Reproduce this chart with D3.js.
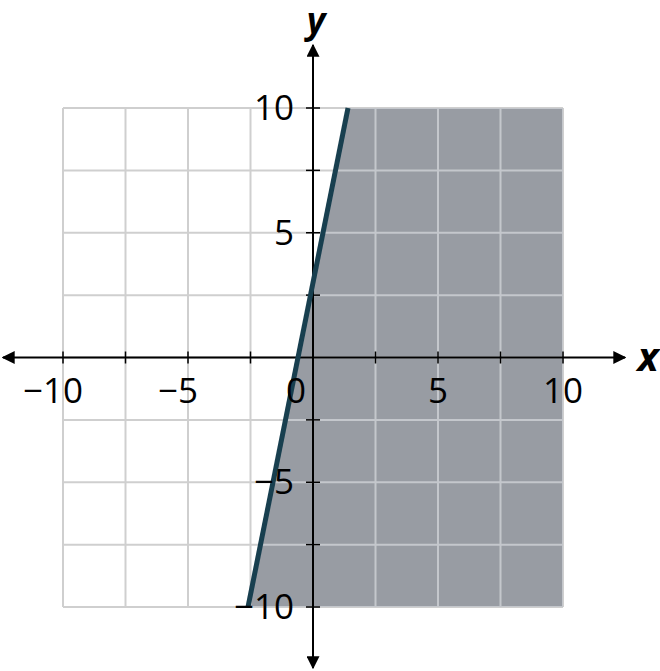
<!DOCTYPE html>
<html>
<head>
<meta charset="utf-8">
<script src="https://cdn.jsdelivr.net/npm/d3@7"></script>
<style>
  body { margin: 0; background: #fff; }
  text { font-family: "Open Sans", sans-serif; }
</style>
</head>
<body>
<svg id="chart"></svg>
<script>
var domainMin = -10, domainMax = 10;
var gridValues = [-10, -7.5, -5, -2.5, 0, 2.5, 5, 7.5, 10];
var xTickLabels = [-10, -5, 0, 5, 10];
var yTickLabels = [-10, -5, 5, 10];
// boundary line y = 5x + 3
var lineSlope = [5];
var lineIntercept = [3];

var width = 660, height = 671;
var svg = d3.select("#chart").attr("width", width).attr("height", height);

var x = d3.scaleLinear().domain([domainMin, domainMax]).range([63, 563]);
var y = d3.scaleLinear().domain([domainMin, domainMax]).range([607, 108]);

var m = lineSlope[0], b = lineIntercept[0];
function xAt(yv) { return (yv - b) / m; }

// grid
svg.append("g").selectAll("line.v").data(gridValues).enter().append("line")
    .attr("x1", function(d) { return x(d); }).attr("x2", function(d) { return x(d); })
    .attr("y1", y(domainMin)).attr("y2", y(domainMax))
    .attr("stroke", "#cfcfcf").attr("stroke-width", 2);
svg.append("g").selectAll("line.h").data(gridValues).enter().append("line")
    .attr("y1", function(d) { return y(d); }).attr("y2", function(d) { return y(d); })
    .attr("x1", x(domainMin)).attr("x2", x(domainMax))
    .attr("stroke", "#cfcfcf").attr("stroke-width", 2);

// shaded region (right of line)
var region = [
    [xAt(domainMin), domainMin],
    [xAt(domainMax), domainMax],
    [domainMax, domainMax],
    [domainMax, domainMin]
];
var regionPath = d3.line().x(function(d) { return x(d[0]); }).y(function(d) { return y(d[1]); })(region) + "Z";
svg.append("path").attr("d", regionPath).attr("fill", "#989ca3");

// grid inside shade (lighter lines)
svg.append("clipPath").attr("id", "shadeClip").append("path").attr("d", regionPath);
var shadeGrid = svg.append("g").attr("clip-path", "url(#shadeClip)");
shadeGrid.selectAll("line.v").data(gridValues).enter().append("line")
    .attr("x1", function(d) { return x(d); }).attr("x2", function(d) { return x(d); })
    .attr("y1", y(domainMin)).attr("y2", y(domainMax))
    .attr("stroke", "#c4c7cc").attr("stroke-width", 2);
shadeGrid.selectAll("line.h").data(gridValues).enter().append("line")
    .attr("y1", function(d) { return y(d); }).attr("y2", function(d) { return y(d); })
    .attr("x1", x(domainMin)).attr("x2", x(domainMax))
    .attr("stroke", "#c4c7cc").attr("stroke-width", 2);

// arrow marker
var defs = svg.append("defs");
defs.append("marker").attr("id", "arrow")
    .attr("viewBox", "0 0 10 10").attr("refX", 9).attr("refY", 5)
    .attr("markerWidth", 13).attr("markerHeight", 13)
    .attr("markerUnits", "userSpaceOnUse")
    .attr("orient", "auto-start-reverse")
  .append("path").attr("d", "M0,0 L10,5 L0,10 Z").attr("fill", "#000");

// x axis
svg.append("line")
    .attr("x1", 3).attr("x2", 625).attr("y1", y(0)).attr("y2", y(0))
    .attr("stroke", "#000").attr("stroke-width", 2)
    .attr("marker-start", "url(#arrow)").attr("marker-end", "url(#arrow)");
// y axis
svg.append("line")
    .attr("x1", x(0)).attr("x2", x(0)).attr("y1", 668).attr("y2", 45)
    .attr("stroke", "#000").attr("stroke-width", 2)
    .attr("marker-start", "url(#arrow)").attr("marker-end", "url(#arrow)");

// ticks
var tickVals = gridValues.filter(function(d) { return d !== 0; });
svg.append("g").selectAll("line").data(tickVals).enter().append("line")
    .attr("x1", function(d) { return x(d); }).attr("x2", function(d) { return x(d); })
    .attr("y1", y(0) - 6).attr("y2", y(0) + 6)
    .attr("stroke", "#000").attr("stroke-width", 1.5);
svg.append("g").selectAll("line").data(tickVals).enter().append("line")
    .attr("y1", function(d) { return y(d); }).attr("y2", function(d) { return y(d); })
    .attr("x1", x(0) - 7).attr("x2", x(0) + 7)
    .attr("stroke", "#000").attr("stroke-width", 1.5);

// boundary line
svg.append("line")
    .attr("x1", x(xAt(domainMin))).attr("y1", y(domainMin))
    .attr("x2", x(xAt(domainMax))).attr("y2", y(domainMax))
    .attr("stroke", "#183f4f").attr("stroke-width", 5);

// tick labels
function fmt(d) { return d < 0 ? "\u2212" + Math.abs(d) : String(d); }
svg.append("g").selectAll("text").data(xTickLabels).enter().append("text")
    .attr("x", function(d) { return d === 0 ? x(0) - 17 : x(d) - (d < 0 ? 10 : 0); })
    .attr("y", y(0) + 45)
    .attr("text-anchor", "middle")
    .attr("font-size", 35)
    .attr("fill", "#000")
    .text(fmt);
svg.append("g").selectAll("text").data(yTickLabels).enter().append("text")
    .attr("x", x(0) - 19)
    .attr("y", function(d) { return y(d) + 12; })
    .attr("text-anchor", "end")
    .attr("font-size", 35)
    .attr("fill", "#000")
    .text(fmt);

// axis names
svg.append("text").attr("x", 648).attr("y", 371)
    .attr("text-anchor", "middle")
    .attr("font-size", 40).attr("font-weight", "bold").attr("font-style", "italic")
    .text("x");
svg.append("text").attr("x", 316).attr("y", 33)
    .attr("text-anchor", "middle")
    .attr("font-size", 36).attr("font-weight", "bold").attr("font-style", "italic")
    .text("y");
</script>
</body>
</html>
